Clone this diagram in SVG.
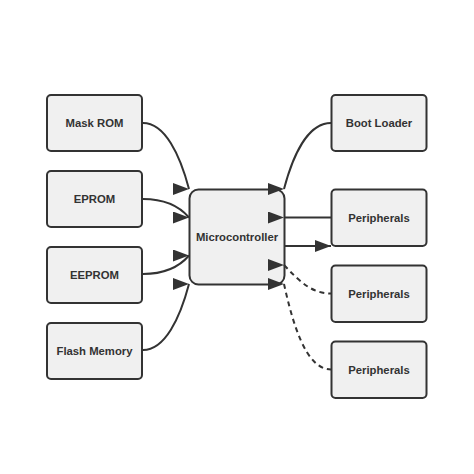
<svg xmlns="http://www.w3.org/2000/svg" width="474" height="474" viewBox="0 0 474 474">
<style>
.box{fill:#f0f0f0;stroke:#333;stroke-width:2}
.lbl{font-family:"Liberation Sans",Arial,sans-serif;font-weight:bold;font-size:11.3px;fill:#333;text-anchor:middle}
.edge{fill:none;stroke:#333;stroke-width:2}
.dash{stroke-dasharray:5,4}
</style>
<defs>
<marker id="ah" viewBox="0 0 16 12" refX="16" refY="6" markerWidth="16" markerHeight="12" markerUnits="userSpaceOnUse" orient="0">
<path d="M0,0 L16,6 L0,12 z" fill="#333"/>
</marker>
</defs>
<rect width="474" height="474" fill="#fff"/>
<g id="mask-rom"><rect class="box" x="47" y="95" width="95" height="56" rx="4"/><text class="lbl" x="94.5" y="127">Mask ROM</text></g>
<g id="eprom"><rect class="box" x="47" y="171" width="95" height="56" rx="4"/><text class="lbl" x="94.5" y="203">EPROM</text></g>
<g id="eeprom"><rect class="box" x="47" y="247" width="95" height="56" rx="4"/><text class="lbl" x="94.5" y="279">EEPROM</text></g>
<g id="flash-memory"><rect class="box" x="47" y="323" width="95" height="56" rx="4"/><text class="lbl" x="94.5" y="355">Flash Memory</text></g>
<g id="microcontroller"><rect class="box" x="189.5" y="189.5" width="95" height="95" rx="9"/><text class="lbl" x="237" y="241">Microcontroller</text></g>
<g id="boot-loader"><rect class="box" x="331.5" y="95" width="95" height="56" rx="4"/><text class="lbl" x="379" y="127">Boot Loader</text></g>
<g id="peripherals-1"><rect class="box" x="331.5" y="189.5" width="95" height="56.5" rx="4"/><text class="lbl" x="379" y="222">Peripherals</text></g>
<g id="peripherals-2"><rect class="box" x="331.5" y="265.5" width="95" height="56.5" rx="4"/><text class="lbl" x="379" y="298">Peripherals</text></g>
<g id="peripherals-3"><rect class="box" x="331.5" y="341.5" width="95" height="56.5" rx="4"/><text class="lbl" x="379" y="374">Peripherals</text></g>
<g id="connectors">
<path class="edge" d="M143,123 C165,123 180,155 189,189" marker-end="url(#ah)"/>
<path class="edge" d="M143,199 C165,199 180,207 189,217.5" marker-end="url(#ah)"/>
<path class="edge" d="M143,274 C165,274 180,266 189,255.5" marker-end="url(#ah)"/>
<path class="edge" d="M143,350 C165,350 180,318 189,284" marker-end="url(#ah)"/>
<path class="edge" d="M284,189 C293,155 308,123 331,123" marker-start="url(#ah)"/>
<path class="edge" d="M284,217.5 H331" marker-start="url(#ah)"/>
<path class="edge" d="M284,246 H331" marker-end="url(#ah)"/>
<path class="edge dash" d="M284,265 C300,282 312,293.5 331,293.5" marker-start="url(#ah)"/>
<path class="edge dash" d="M284,284 C292,320 305,369.5 331,369.5" marker-start="url(#ah)"/>
</g>
</svg>
